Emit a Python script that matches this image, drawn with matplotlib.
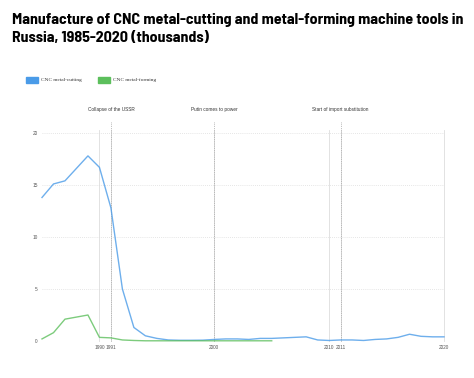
import matplotlib
matplotlib.use('Agg')
import matplotlib.pyplot as plt

years = list(range(1985, 2021))
cutting = [13.8, 15.1, 15.4, 16.6, 17.8, 16.7, 12.8, 5.0, 1.3, 0.5,
           0.25, 0.1, 0.07, 0.07, 0.08, 0.15, 0.2, 0.2, 0.15, 0.25,
           0.25, 0.3, 0.35, 0.4, 0.1, 0.05, 0.1, 0.1, 0.05, 0.15,
           0.2, 0.35, 0.65, 0.45, 0.4, 0.4]
forming_years = list(range(1985, 2006))
forming = [0.2, 0.8, 2.1, 2.3, 2.5, 0.35, 0.3, 0.1, 0.05, 0.02,
           0.02, 0.02, 0.02, 0.02, 0.02, 0.02, 0.02, 0.02, 0.02, 0.02, 0.02]

xticks = [1990, 1991, 2000, 2010, 2011, 2020]
yticks = [0, 5, 10, 15, 20]
events = [(1991, "Collapse of the USSR"), (2000, "Putin comes to power"),
          (2011, "Start of import substitution")]

blue = "#4a9be8"
green = "#5cbf5c"
small_font = ["Liberation Sans", "DejaVu Sans"]

fig = plt.figure(figsize=(4.74, 3.78), dpi=100)
fig.patch.set_facecolor("white")

fig.text(12 / 474, 1 - 13 / 378,
         "Manufacture of CNC metal-cutting and metal-forming machine tools in\nRussia, 1985-2020 (thousands)",
         family=["Barlow Semi Condensed", "Roboto Condensed", "Liberation Sans", "DejaVu Sans"],
         weight="bold", fontsize=11.5, va="top", ha="left", linespacing=1.4)

ax = fig.add_axes([42 / 474, 1 - 341 / 378, 402 / 474, 208 / 378])
ax.set_xlim(1985, 2020)
ax.set_ylim(0, 20)

for y in yticks:
    ax.axhline(y, color="#dddddd", lw=0.6, ls=(0, (1, 1.5)), zorder=0)
for x in xticks:
    ax.plot([x, x], [0, 20.3], color="#dddddd", lw=0.6, zorder=0, clip_on=False)
ax.axvline(2020, color="#d8d8d8", lw=0.6, ls=(0, (1, 1.5)), zorder=0)

for x, label in events:
    ax.plot([x, x], [0, 21.2], color="#a8a8a8", lw=0.6, ls=(0, (1, 1.2)),
            clip_on=False, zorder=1)
    ax.text(x, 22.3, label, ha="center", va="center", fontsize=3.4,
            color="#333333", family=small_font)

ax.plot(years, cutting, color=blue, lw=1.0, alpha=0.8, clip_on=False, zorder=3)
ax.plot(forming_years, forming, color=green, lw=1.0, alpha=0.8, clip_on=False, zorder=3)

ax.set_xticks(xticks)
ax.set_xticklabels([str(x) for x in xticks])
ax.set_yticks(yticks)
ax.tick_params(length=0, labelsize=3.4, labelcolor="#555555", pad=3)
for lbl in ax.get_xticklabels() + ax.get_yticklabels():
    lbl.set_family(small_font)
for s in ax.spines.values():
    s.set_visible(False)

# legend
for x0, col, label in [(26, blue, "CNC metal-cutting"), (98, green, "CNC metal-forming")]:
    fig.patches.append(plt.Rectangle((x0 / 474, 1 - 83 / 378), 12 / 474, 6 / 378,
                                     transform=fig.transFigure, color=col, figure=fig))
    fig.text((x0 + 15) / 474, 1 - 80 / 378, label, fontsize=3.9, va="center",
             ha="left", family=["Liberation Serif", "DejaVu Serif"], color="#333333")

fig.savefig("out.png", dpi=100, facecolor="white")
